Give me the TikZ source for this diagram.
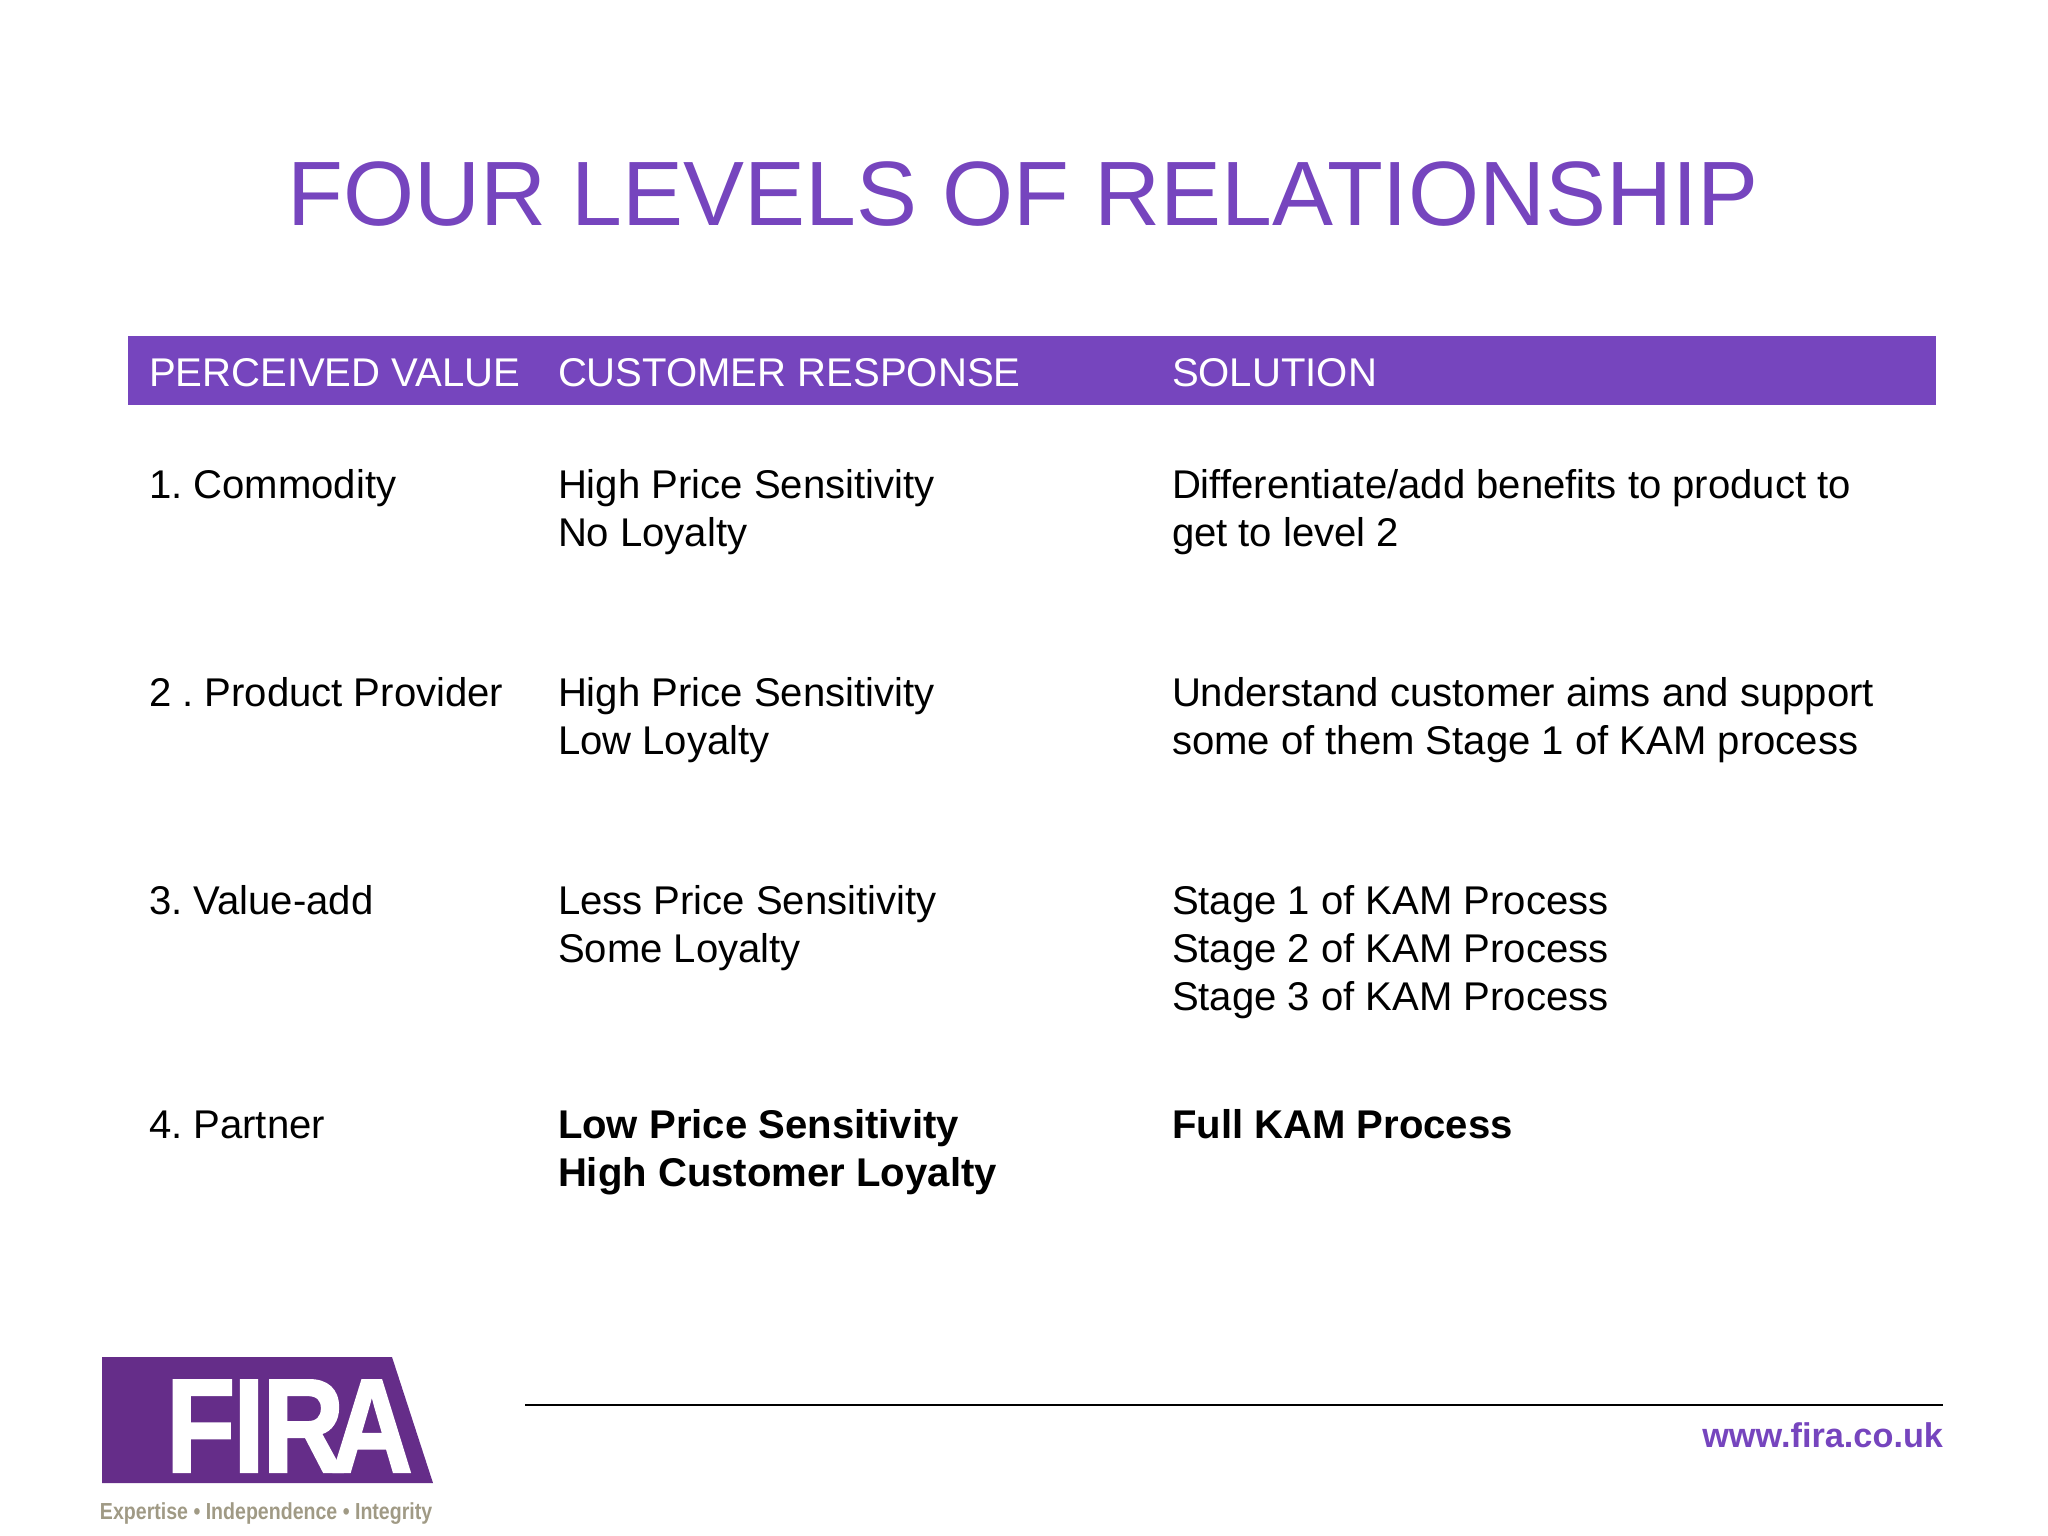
\documentclass[tikz,border=0pt]{standalone}
\usepackage{fontspec}
\setmainfont{Liberation Sans}
\newfontfamily\firafont[FakeBold=1.6]{Liberation Sans Bold}
\usetikzlibrary{positioning}
\definecolor{firapurple}{HTML}{7645BE}
\definecolor{logopurple}{HTML}{652D89}
\definecolor{logogrey}{HTML}{A09A85}
\newcommand{\bodysize}{\fontsize{11.4}{13.65}\selectfont\frenchspacing}
\begin{document}
\begin{tikzpicture}[x=0.01cm, y=-0.01cm,
	every node/.style={inner sep=0pt, outer sep=0pt},
	cell/.style={anchor=north west, align=left, font=\bodysize, text=black},
	headcell/.style={anchor=base west, font=\bodysize, text=white}]
	\useasboundingbox (0,0) rectangle (2048,1536);
	\node[anchor=base, font=\fontsize{26}{30}\selectfont, text=firapurple] (title) at (1023,225) {FOUR LEVELS OF RELATIONSHIP};
	\node[fill=firapurple, minimum width=1808*0.01cm, minimum height=69*0.01cm, anchor=north west] (bar) at (128,336) {};
	\begin{scope}
		\node[headcell] (h1) at (149,386) {PERCEIVED VALUE};
		\node[headcell] (h2) at (558,386) {CUSTOMER RESPONSE};
		\node[headcell] (h3) at (1172,386) {SOLUTION};
		\node[cell] (a1) at (149,465) {\strut 1. Commodity};
		\node[cell] (b1) at (558,465) {\strut High Price Sensitivity\\No Loyalty};
		\node[cell] (c1) at (1172,465) {\strut Differentiate/add benefits to product to\\get to level 2};
		\node[cell] (a2) at (149,673) {\strut 2 . Product Provider};
		\node[cell] (b2) at (558,673) {\strut High Price Sensitivity\\Low Loyalty};
		\node[cell] (c2) at (1172,673) {\strut Understand customer aims and support\\some of them Stage 1 of KAM process};
		\node[cell] (a3) at (149,881) {\strut 3. Value-add};
		\node[cell] (b3) at (558,881) {\strut Less Price Sensitivity\\Some Loyalty};
		\node[cell] (c3) at (1172,881) {\strut Stage 1 of KAM Process\\Stage 2 of KAM Process\\Stage 3 of KAM Process};
		\node[cell] (a4) at (149,1105) {\strut 4. Partner};
		\node[cell, font=\bodysize\bfseries] (b4) at (558,1105) {\strut Low Price Sensitivity\\High Customer Loyalty};
		\node[cell, font=\bodysize\bfseries] (c4) at (1172,1105) {\strut Full KAM Process};
	\end{scope}
	\coordinate (ruleleft) at (525,1405);
	\coordinate (ruleright) at (1943,1405);
	\draw[line width=0.6pt] (ruleleft) -- (ruleright);
	\node[anchor=base east, font=\fontsize{9.75}{11}\selectfont\bfseries, text=firapurple] (web) at (1943,1447) {www.fira.co.uk};
	\fill[logopurple] (102,1357) -- (392,1357) -- (433,1483) -- (102,1483) -- cycle;
	\node[anchor=base west, font=\fontsize{38}{38}\firafont, text=white, xscale=0.85, transform shape] (fira) at (166,1472) {F\kern-0.02em I\kern-0.02em R\kern-0.12em A};
	\node[anchor=base west, font=\fontsize{6.6}{8}\selectfont\bfseries, text=logogrey, xscale=0.843, transform shape] (tagline) at (100,1519) {Expertise • Independence • Integrity};
\end{tikzpicture}
\end{document}
